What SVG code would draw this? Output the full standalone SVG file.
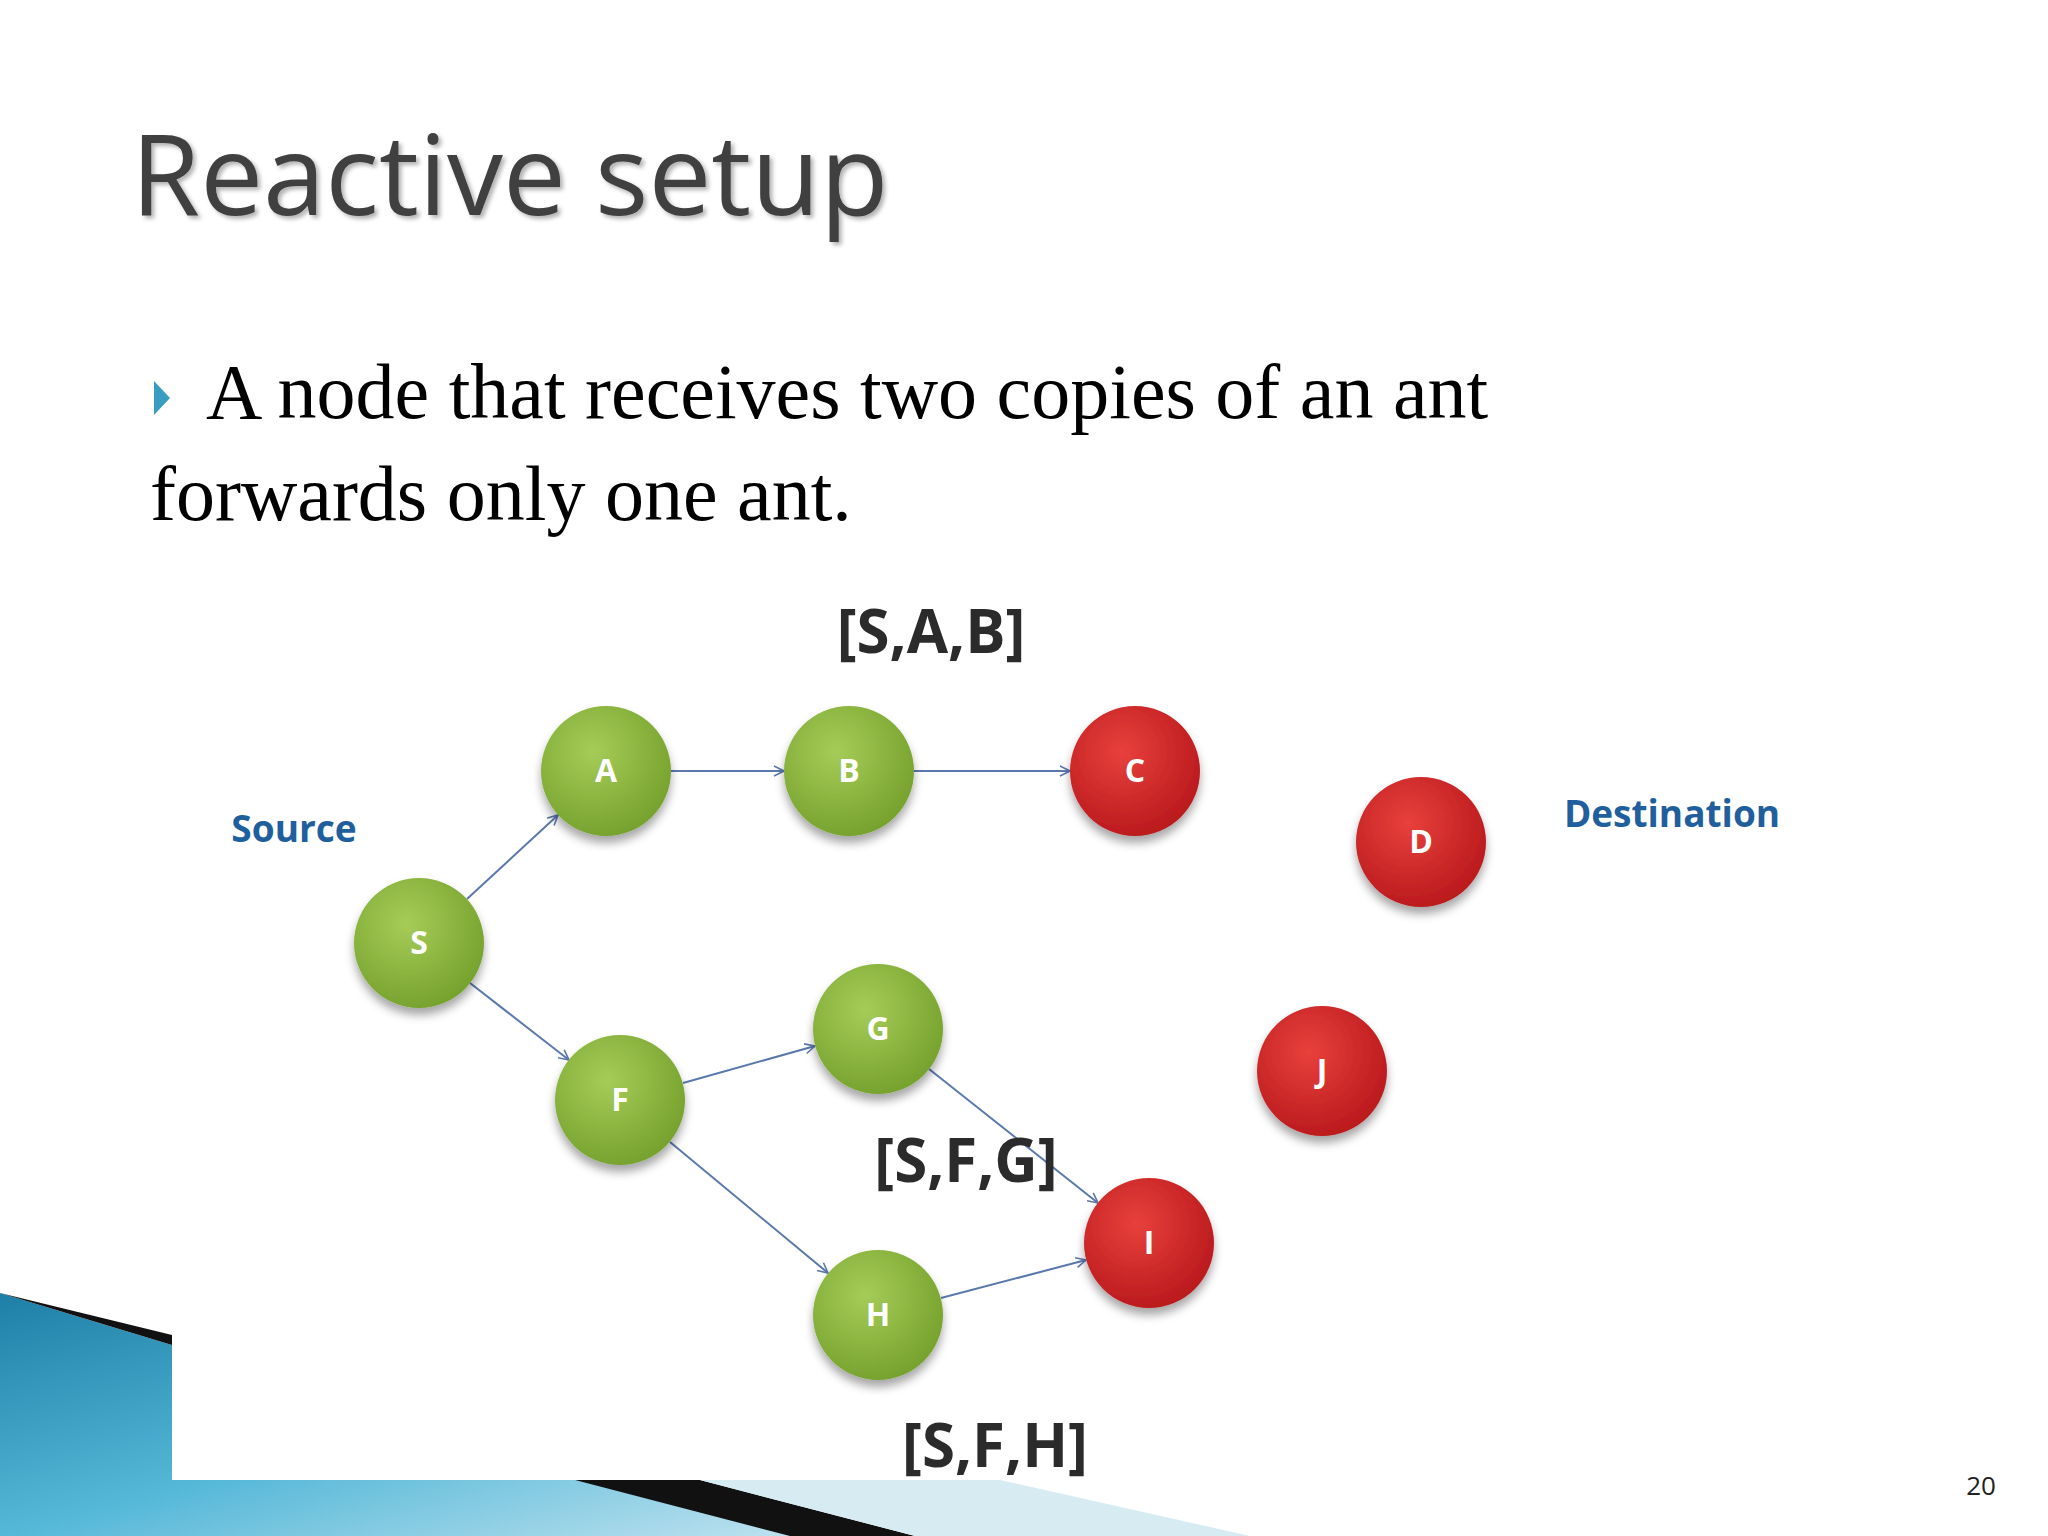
<svg xmlns="http://www.w3.org/2000/svg" width="2048" height="1536" viewBox="0 0 2048 1536">
<defs>
<radialGradient id="gg" cx="40%" cy="35%" r="70%"><stop offset="0" stop-color="#a6cc58"/><stop offset="1" stop-color="#74a02c"/></radialGradient>
<radialGradient id="rg" cx="40%" cy="35%" r="70%"><stop offset="0" stop-color="#e8403c"/><stop offset="1" stop-color="#b8181c"/></radialGradient>
<filter id="sh" x="-30%" y="-30%" width="160%" height="170%"><feDropShadow dx="0" dy="7" stdDeviation="5" flood-color="#000" flood-opacity="0.35"/></filter>
<filter id="ts"><feDropShadow dx="3" dy="3" stdDeviation="2" flood-color="#000" flood-opacity="0.3"/></filter>
<marker id="ar" viewBox="0 0 12 12" refX="11" refY="6" markerWidth="12" markerHeight="12" markerUnits="userSpaceOnUse" orient="auto"><path d="M1,1 L11,6 L1,11" fill="none" stroke="#5b78ad" stroke-width="1.6"/></marker>
<linearGradient id="bl" x1="0" y1="0" x2="1" y2="1"><stop offset="0" stop-color="#1d7fa6"/><stop offset="0.5" stop-color="#55b8d8"/><stop offset="1" stop-color="#cde8f2"/></linearGradient>
</defs>
<style>
.n text{font-family:"Open Sans","DejaVu Sans",sans-serif;font-size:32px;fill:#fff;text-anchor:middle;font-weight:bold}
.lbl{font-family:"Open Sans","DejaVu Sans",sans-serif;font-weight:bold;font-size:60px;fill:#2b2b2b;text-anchor:middle}
.blue{font-family:"Open Sans","DejaVu Sans",sans-serif;font-weight:bold;font-size:37px;fill:#1f5f9e;text-anchor:middle}
#edges line{stroke:#5b78ad;stroke-width:2;marker-end:url(#ar)}
</style>
<rect width="2048" height="1536" fill="#fff"/>
<polygon points="0,1293 172,1345 172,1480 575,1480 915,1536 0,1536" fill="url(#bl)"/>
<polygon points="575,1480 700,1480 915,1536 790,1536" fill="#111"/>
<polygon points="700,1480 1000,1480 1250,1536 915,1536" fill="#d7ebf3"/>
<polygon points="0,1293 172,1335 172,1345" fill="#111"/>
<text x="131" y="215" font-family="'Open Sans','DejaVu Sans',sans-serif" font-size="112" fill="#404040" filter="url(#ts)">Reactive setup</text>
<polygon points="154,381 170,398 154,415" fill="#3a9cc0"/>
<text x="206" y="418" font-family="'Liberation Serif',serif" font-size="78" fill="#000">A node that receives two copies of an ant</text>
<text x="150" y="520" font-family="'Liberation Serif',serif" font-size="78" fill="#000">forwards only one ant.</text>
<g id="edges">
<line x1="467" y1="899" x2="558" y2="815"/>
<line x1="671" y1="771" x2="784" y2="771"/>
<line x1="914" y1="771" x2="1070" y2="771"/>
<line x1="470" y1="983" x2="569" y2="1060"/>
<line x1="683" y1="1083" x2="815" y2="1046"/>
<line x1="670" y1="1142" x2="828" y2="1273"/>
<line x1="929" y1="1069" x2="1098" y2="1203"/>
<line x1="941" y1="1298" x2="1086" y2="1260"/>
</g>
<g id="S" class="n"><circle cx="419" cy="943" r="65" fill="url(#gg)" filter="url(#sh)"/><text x="419" y="954">S</text></g>
<g id="A" class="n"><circle cx="606" cy="771" r="65" fill="url(#gg)" filter="url(#sh)"/><text x="606" y="782">A</text></g>
<g id="B" class="n"><circle cx="849" cy="771" r="65" fill="url(#gg)" filter="url(#sh)"/><text x="849" y="782">B</text></g>
<g id="C" class="n"><circle cx="1135" cy="771" r="65" fill="url(#rg)" filter="url(#sh)"/><text x="1135" y="782">C</text></g>
<g id="D" class="n"><circle cx="1421" cy="842" r="65" fill="url(#rg)" filter="url(#sh)"/><text x="1421" y="853">D</text></g>
<g id="F" class="n"><circle cx="620" cy="1100" r="65" fill="url(#gg)" filter="url(#sh)"/><text x="620" y="1111">F</text></g>
<g id="G" class="n"><circle cx="878" cy="1029" r="65" fill="url(#gg)" filter="url(#sh)"/><text x="878" y="1040">G</text></g>
<g id="H" class="n"><circle cx="878" cy="1315" r="65" fill="url(#gg)" filter="url(#sh)"/><text x="878" y="1326">H</text></g>
<g id="I" class="n"><circle cx="1149" cy="1243" r="65" fill="url(#rg)" filter="url(#sh)"/><text x="1149" y="1254">I</text></g>
<g id="J" class="n"><circle cx="1322" cy="1071" r="65" fill="url(#rg)" filter="url(#sh)"/><text x="1322" y="1082">J</text></g>
<text class="lbl" x="931" y="653">[S,A,B]</text>
<text class="lbl" x="966" y="1182">[S,F,G]</text>
<text class="lbl" x="995" y="1467">[S,F,H]</text>
<text class="blue" x="294" y="842">Source</text>
<text class="blue" x="1672" y="827">Destination</text>
<text x="1981" y="1495" font-family="'Open Sans','DejaVu Sans',sans-serif" font-size="26" fill="#222" text-anchor="middle">20</text>
</svg>
